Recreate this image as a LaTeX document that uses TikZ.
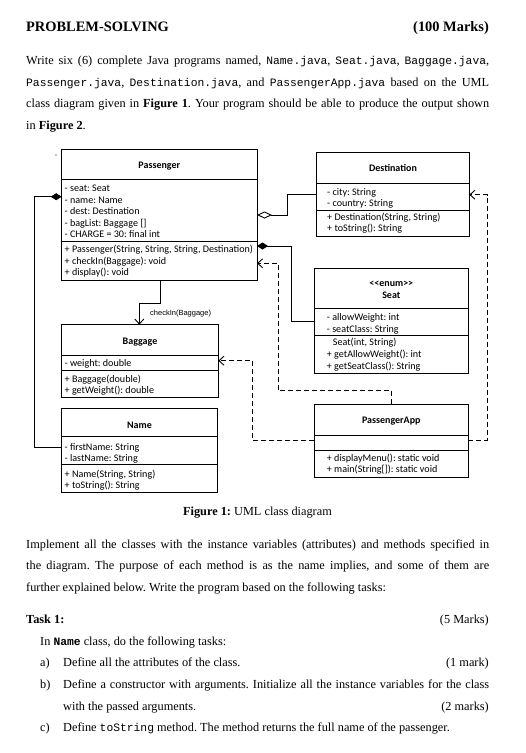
\documentclass[tikz,border=0pt]{standalone}
\usepackage{fontspec}
\setmainfont{Liberation Serif}
\setmonofont{Liberation Mono}[Scale=0.92]
\newfontfamily\diagfont{Carlito}
\newfontfamily\lblfont{Liberation Sans}
\usetikzlibrary{arrows.meta}
\frenchspacing
\begin{document}
\begin{tikzpicture}[x=1pt,y=-1pt,
  box/.style={draw, line width=0.9pt, anchor=north west, inner sep=0pt, outer sep=0pt},
  sepline/.style={line width=0.9pt},
  row/.style={anchor=base west, inner sep=0pt, font=\diagfont\fontsize{10.1}{11}\selectfont},
  ttl/.style={anchor=base, inner sep=0pt, font=\diagfont\bfseries\fontsize{10}{11}\selectfont},
  body/.style={anchor=base west, inner sep=0pt, font=\fontsize{12.3}{14}\selectfont},
  bodyr/.style={anchor=base east, inner sep=0pt, font=\fontsize{12.3}{14}\selectfont},
  conn/.style={line width=0.9pt},
  dep/.style={line width=0.9pt, dash pattern=on 5pt off 3pt, -{Straight Barb[length=5pt,width=9pt]}},
  compo/.style={line width=0.9pt, {Diamond[length=11pt,width=7pt]}-},
  aggr/.style={line width=0.9pt, {Diamond[open,length=15pt,width=7pt]}-},
  assoc/.style={line width=0.9pt, -{Straight Barb[length=5pt,width=9pt]}}
]
\useasboundingbox[fill=white] (0,0) rectangle (526,753);

% ---------- header text ----------
\node[body, font=\bfseries\fontsize{14.4}{16}\selectfont] (head) at (26,31) {PROBLEM-SOLVING};
\node[bodyr, font=\bfseries\fontsize{14.4}{16}\selectfont] (marks) at (489,31) {(100 Marks)};
\node[body] (p1) at (26,64.5) {\hbox to 463pt{Write six (6) complete Java programs named, \texttt{Name.java}, \texttt{Seat.java}, \texttt{Baggage.java},}};
\node[body] (p2) at (26,86) {\hbox to 463pt{\texttt{Passenger.java}, \texttt{Destination.java}, and \texttt{PassengerApp.java} based on the UML}};
\node[body] (p3) at (26,107.7) {\hbox to 463pt{class diagram given in \textbf{Figure 1}. Your program should be able to produce the output shown}};
\node[body] (p4) at (26,129.3) {in \textbf{Figure 2}.};

% ---------- class boxes ----------
\fill (56,155) circle (0.7);

% Passenger
\node[box, minimum width=195.3pt, minimum height=131.2pt] (pas) at (61.7,149.3) {};
\draw[sepline] (pas.west |- 0,179.3) -- (pas.east |- 0,179.3);
\draw[sepline] (pas.west |- 0,241.7) -- (pas.east |- 0,241.7);
\node[ttl] (pasT) at (159.3,168.3) {Passenger};
\foreach \t [count=\i from 0] in {- seat: Seat, - name: Name, - dest: Destination, - bagList: Baggage {[]}, - CHARGE = 30: final int}
  \node[row] (pa\i) at (64.5,191.5+11.5*\i) {\t};
\foreach \t [count=\i from 0] in {{+ Passenger(String, String, String, Destination)}, + checkIn(Baggage): void, + display(): void}
  \node[row] (pm\i) at (64.5,252.5+11.5*\i) {\t};

% Destination
\node[box, minimum width=152.6pt, minimum height=83.7pt] (dest) at (316.7,152.3) {};
\draw[sepline] (dest.west |- 0,183.3) -- (dest.east |- 0,183.3);
\draw[sepline] (dest.west |- 0,210.3) -- (dest.east |- 0,210.3);
\node[ttl] (destT) at (393,171.5) {Destination};
\foreach \t [count=\i from 0] in {- city: String, - country: String}
  \node[row] (da\i) at (327,195.3+11.5*\i) {\t};
\foreach \t [count=\i from 0] in {{+ Destination(String, String)}, + toString(): String}
  \node[row] (dm\i) at (327,220+11.5*\i) {\t};

% Seat
\node[box, minimum width=154pt, minimum height=104.7pt] (seat) at (314.3,268.3) {};
\draw[sepline] (seat.west |- 0,308.3) -- (seat.east |- 0,308.3);
\draw[sepline] (seat.west |- 0,335.3) -- (seat.east |- 0,335.3);
\node[ttl] (seatS) at (391.3,286.5) {{<}{<}enum{>}{>}};
\node[ttl] (seatT) at (391.3,298.3) {Seat};
\foreach \t [count=\i from 0] in {- allowWeight: int, - seatClass: String}
  \node[row] (sa\i) at (326.7,320+12.5*\i) {\t};
\node[row] (sm0) at (332.7,345.5) {Seat(int, String)};
\foreach \t [count=\i from 1] in {+ getAllowWeight(): int, + getSeatClass(): String}
  \node[row] (sm\i) at (326.7,345.5+12*\i) {\t};

% PassengerApp
\node[box, minimum width=154pt, minimum height=73pt] (app) at (314.3,404.3) {};
\draw[sepline] (app.west |- 0,435) -- (app.east |- 0,435);
\draw[sepline] (app.west |- 0,450.7) -- (app.east |- 0,450.7);
\node[ttl] (appT) at (391.3,423.3) {PassengerApp};
\foreach \t [count=\i from 0] in {+ displayMenu(): static void, {+ main(String[]): static void}}
  \node[row] (am\i) at (326.7,461+11.5*\i) {\t};

% Baggage
\node[box, minimum width=156.6pt, minimum height=72.6pt] (bag) at (61.7,324.7) {};
\draw[sepline] (bag.west |- 0,355) -- (bag.east |- 0,355);
\draw[sepline] (bag.west |- 0,370.3) -- (bag.east |- 0,370.3);
\node[ttl] (bagT) at (140,344) {Baggage};
\node[row] (ba0) at (64.5,366.5) {- weight: double};
\foreach \t [count=\i from 0] in {+ Baggage(double), + getWeight(): double}
  \node[row] (bm\i) at (64.5,382+11.5*\i) {\t};

% Name
\node[box, minimum width=155.6pt, minimum height=84.4pt] (name) at (61.7,408.3) {};
\draw[sepline] (name.west |- 0,436) -- (name.east |- 0,436);
\draw[sepline] (name.west |- 0,464.3) -- (name.east |- 0,464.3);
\node[ttl] (nameT) at (139.5,428.3) {Name};
\foreach \t [count=\i from 0] in {- firstName: String, - lastName: String}
  \node[row] (na\i) at (64.5,450+11.5*\i) {\t};
\foreach \t [count=\i from 0] in {{+ Name(String, String)}, + toString(): String}
  \node[row] (nm\i) at (64.5,477+11.5*\i) {\t};

% ---------- connectors ----------
\draw[compo] (pas.west |- 0,196.7) -- (34.3,196.7) |- (name.west |- 0,447);
\draw[aggr] (pas.east |- 0,215) -- (287,215) |- (dest.west |- 0,194.7);
\draw[compo] (pas.east |- 0,246) -- (291.7,246) |- (seat.west |- 0,321);
\draw[dep] (app.north -| 391.7,0) -- (391.7,390.7) -| (278,263.3) -- (pas.east |- 0,263.3);
\draw[dep] (app.east |- 0,440) -- (487.3,440) |- (dest.east |- 0,194.7);
\draw[dep] (app.west |- 0,440) -- (252.3,440) |- (bag.east |- 0,360.7);
\draw[assoc] (pas.south -| 160,0) -- (160,303.3) -| (bag.north -| 139.3,0);
\node[anchor=base west, inner sep=0pt, font=\lblfont\fontsize{7.5}{8}\selectfont] (chk) at (150,315.5) {checkIn(Baggage)};

% ---------- lower text ----------
\node[anchor=base, inner sep=0pt, font=\fontsize{12.3}{14}\selectfont] (cap) at (257.5,515) {\textbf{Figure 1:} UML class diagram};
\node[body] (q1) at (26,548) {\hbox to 463pt{Implement all the classes with the instance variables (attributes) and methods specified in}};
\node[body] (q2) at (26,569.7) {\hbox to 463pt{the diagram. The purpose of each method is as the name implies, and some of them are}};
\node[body] (q3) at (26,591.4) {further explained below. Write the program based on the following tasks:};
\node[body, font=\bfseries\fontsize{12.3}{14}\selectfont] (task) at (26,623) {Task 1:};
\node[bodyr] (tm) at (489,623) {(5 Marks)};
\node[body] (tin) at (40,645) {In \texttt{\textbf{Name}} class, do the following tasks:};
\node[body] (la) at (40,666.6) {a)};
\node[body] (ta) at (63,666.6) {Define all the attributes of the class.};
\node[bodyr] (ma) at (489,666.6) {(1 mark)};
\node[body] (lb) at (40,688.3) {b)};
\node[body] (tb) at (63,688.3) {\hbox to 426pt{Define a constructor with arguments. Initialize all the instance variables for the class}};
\node[body] (tb2) at (63,710) {with the passed arguments.};
\node[bodyr] (mb) at (489,710) {(2 marks)};
\node[body] (lc) at (40,731.7) {c)};
\node[body] (tc) at (63,731.7) {Define \texttt{toString} method. The method returns the full name of the passenger.};
\end{tikzpicture}
\end{document}
